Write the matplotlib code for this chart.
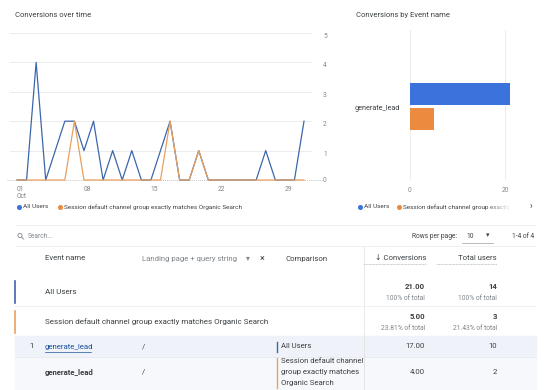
import matplotlib
matplotlib.use("Agg")
import matplotlib.pyplot as plt
import numpy as np

plt.rcParams['font.family'] = ['Roboto', 'DejaVu Sans']

# Datos del gráfico de líneas (conversiones diarias, octubre)
days = list(range(1, 32))
all_users = [0, 0, 4, 0, 1, 2, 2, 1, 2, 0, 1, 0, 1, 0, 0, 1, 2, 0, 0, 1,
             0, 0, 0, 0, 0, 0, 1, 0, 0, 0, 2]
organic = [0, 0, 0, 0, 0, 0, 2, 0, 0, 0, 0, 0, 0, 0, 0, 0, 2, 0, 0, 1,
           0, 0, 0, 0, 0, 0, 0, 0, 0, 0, 0]
x_tick_days = [1, 8, 15, 22, 29]
x_tick_labels = ['01\nOct', '08', '15', '22', '29']

# Datos del gráfico de barras
events = ['generate_lead']
conv_all = [21]
conv_organic = [5]

# Datos de la tabla
series_names = ['All Users', 'Session default channel group exactly matches Organic Search']
total_conv = ['21.00', '5.00']
total_conv_pct = ['100% of total', '23.81% of total']
total_users = ['14', '3']
total_users_pct = ['100% of total', '21.43% of total']
row_event = ['generate_lead', 'generate_lead']
row_page = ['/', '/']
row_comp = ['All Users', 'Session default channel\ngroup exactly matches\nOrganic Search']
row_conv = ['17.00', '4.00']
row_users = ['10', '2']

W, H = 551, 390
BLUE_LINE = '#3c66ad'
ORANGE_LINE = '#e8a05c'
BLUE_BAR = '#3b72db'
ORANGE_BAR = '#ec8a3f'
GRID = '#ececec'
TXT = '#3c4043'
GRAY = '#80868b'
FS = 5.6  # tamaño del texto de la tabla


def rect(x0, y0, x1, y1):
    return [x0 / W, 1 - y1 / H, (x1 - x0) / W, (y1 - y0) / H]


fig = plt.figure(figsize=(W / 100, H / 100), dpi=100)
fig.patch.set_facecolor('white')

# ---- Conversiones en el tiempo ----
ax = fig.add_axes(rect(10, 28, 312, 185))
px_day = 287 / 30
ax.set_xlim(1 - 7 / px_day, 1 + 295 / px_day)
ax.set_ylim(-5 / 29.4, 5 + 5 / 29.4)
for v in range(1, 6):
    ax.axhline(v, color=GRID, lw=0.7, zorder=0)
ax.plot([0, 33], [0, 0], color='#c8c8c8', lw=0.7, ls=(0, (1, 1)), zorder=1, clip_on=False)
ax.plot(days, all_users, color=BLUE_LINE, lw=0.9, zorder=2)
ax.plot(days, organic, color=ORANGE_LINE, lw=0.9, zorder=3)
for s in ax.spines.values():
    s.set_visible(False)
ax.set_xticks(x_tick_days)
ax.set_xticklabels(x_tick_labels, fontsize=4.8, color=GRAY, ha='left', linespacing=0.9)
ax.tick_params(axis='x', length=0, pad=1)
ax.yaxis.tick_right()
ax.set_yticks(range(0, 6))
ax.set_yticklabels([str(v) for v in range(0, 6)], fontsize=4.8, color=GRAY)
ax.tick_params(axis='y', length=0, pad=8)
for lab in ax.get_yticklabels()[1:]:
    lab.set_va('top')
ax.patch.set_visible(False)

# ---- Conversiones por evento ----
bx = fig.add_axes(rect(410, 30, 516, 180))
h = 0.29
yc = np.arange(len(events))
bx.barh(yc + h / 2, conv_all, height=h, color=BLUE_BAR, zorder=2)
bx.barh(yc - h / 2 - 0.04, conv_organic, height=h, color=ORANGE_BAR, zorder=2)
bx.set_xlim(0, 106 / 4.75)
bx.set_ylim(-1, 1)
bx.set_xticks([0, 20])
bx.set_xticklabels(['0', '20'], fontsize=4.8, color=GRAY)
bx.xaxis.grid(True, color=GRID, lw=0.7, zorder=0)
bx.tick_params(axis='x', length=0, pad=5)
bx.set_yticks(yc - 0.04)
bx.set_yticklabels(events, fontsize=5.2, color=TXT)
bx.tick_params(axis='y', length=0, pad=7)
for s in bx.spines.values():
    s.set_visible(False)
bx.patch.set_visible(False)

# ---- Capa de textos y tabla ----
tb = fig.add_axes([0, 0, 1, 1])
tb.axis('off')

tb.text(15, 15, 'Conversions over time', fontsize=5.5, color=TXT, va='center')
tb.text(356, 15, 'Conversions by Event name', fontsize=5.5, color=TXT, va='center')

# leyendas
tb.plot([19], [207], 'o', color=BLUE_BAR, ms=2.6)
tb.text(23, 207, 'All Users', fontsize=4.6, color=TXT, va='center')
tb.plot([60], [207], 'o', color=ORANGE_BAR, ms=2.6)
tb.text(64, 207, series_names[1], fontsize=4.6, color=TXT, va='center')

tb.plot([360], [207], 'o', color=BLUE_BAR, ms=2.6)
tb.text(364, 207, 'All Users', fontsize=4.6, color=TXT, va='center')
tb.plot([399], [207], 'o', color=ORANGE_BAR, ms=2.6)
tb.text(403, 207, 'Session default channel group exactly', fontsize=4.6, color=TXT,
        va='center', zorder=1)
fade = np.ones((1, 60, 4))
fade[0, :, 3] = np.clip(np.linspace(0, 1.6, 60), 0, 1)
tb.imshow(fade, extent=[485, 528, 212, 201], aspect='auto', zorder=2, interpolation='bilinear')
tb.add_patch(plt.Rectangle((520, 200), 30, 14, color='white', zorder=2))
tb.text(531, 206, '›', fontsize=6.5, color=TXT, va='center', ha='center', zorder=3)
tb.set_xlim(0, W)
tb.set_ylim(H, 0)

# barra de búsqueda
tb.plot([15, 536], [225, 225], color='#eeeeee', lw=0.6)
tb.add_patch(plt.Circle((20, 235.5), 2.1, fill=False, color=GRAY, lw=0.6))
tb.plot([21.6, 23.6], [237.1, 239.1], color=GRAY, lw=0.6)
tb.text(28, 236.5, 'Search...', fontsize=4.8, color=GRAY, va='center')
tb.text(457, 236.5, 'Rows per page:', fontsize=4.8, color=TXT, va='center', ha='right')
tb.text(466, 236, '10', fontsize=4.8, color=TXT, va='center')
tb.text(488, 236, '▾', fontsize=5, color=TXT, va='center', ha='center')
tb.plot([462, 493], [242.5, 242.5], color='#9aa0a6', lw=0.5)
tb.text(534, 236.5, '1-4 of 4', fontsize=4.8, color=TXT, va='center', ha='right')
tb.plot([15, 536], [246, 246], color='#eeeeee', lw=0.6)

# cabecera
hy = 258.5
tb.text(45, hy, 'Event name', fontsize=FS, color=TXT, va='center')
tb.text(142, hy, 'Landing page + query string', fontsize=FS, color=GRAY, va='center')
tb.text(248, hy, '▾', fontsize=5.5, color=GRAY, va='center', ha='center')
tb.text(262, hy, '×', fontsize=6.5, color=TXT, va='center', ha='center')
tb.text(286, hy, 'Comparison', fontsize=FS, color=TXT, va='center')
tb.text(426, hy, '↓ Conversions', fontsize=FS, color=TXT, va='center', ha='right')
tb.plot([363, 426], [hy + 5.5, hy + 5.5], color='#9aa0a6', lw=0.5, ls=(0, (1, 1)))
tb.text(497, hy, 'Total users', fontsize=FS, color=TXT, va='center', ha='right')
tb.plot([436, 497], [hy + 5.5, hy + 5.5], color='#9aa0a6', lw=0.5, ls=(0, (1, 1)))
tb.plot([363.5, 363.5], [246, 390], color='#e4e4e4', lw=0.6)

# filas de totales
colors = [BLUE_LINE, ORANGE_LINE]
for i, yy in enumerate([291.5, 321.5]):
    tb.plot([15, 15], [yy - 11, yy + 11], color=colors[i], lw=1.2)
    tb.text(45, yy, series_names[i], fontsize=5.8, color=TXT, va='center')
    tb.text(425, yy - 5, total_conv[i], fontsize=5.6, color=TXT, va='center', ha='right',
            fontweight='bold')
    tb.text(425, yy + 7, total_conv_pct[i], fontsize=4.9, color=GRAY, va='center', ha='right')
    tb.text(497, yy - 5, total_users[i], fontsize=5.6, color=TXT, va='center', ha='right',
            fontweight='bold')
    tb.text(497, yy + 7, total_users_pct[i], fontsize=4.9, color=GRAY, va='center', ha='right')
tb.plot([15, 536], [306, 306], color='#eeeeee', lw=0.6)

# filas de datos
tb.add_patch(plt.Rectangle((15, 336), 521, 21, color='#eff3f9', zorder=0))
tb.add_patch(plt.Rectangle((15, 357), 521, 33, color='#f6f8fb', zorder=0))
tb.plot([15, 536], [357, 357], color='#e6e9ee', lw=0.6)
tb.plot([363.5, 363.5], [336, 390], color='#e4e4e4', lw=0.6)

ry = [346.5, 372]
tb.text(29, ry[0], '1', fontsize=FS, color=TXT, va='center')
tb.text(45, ry[0], row_event[0], fontsize=FS, color='#1a4f9c', va='center')
tb.plot([45, 91], [ry[0] + 5, ry[0] + 5], color='#1a4f9c', lw=0.5)
tb.text(45, ry[1], row_event[1], fontsize=FS, color=TXT, va='center', fontweight='bold')
for i, yy in enumerate(ry):
    tb.text(142, yy, row_page[i], fontsize=FS, color=TXT, va='center')
    tb.text(425, yy, row_conv[i], fontsize=FS, color=TXT, va='center', ha='right')
    tb.text(497, yy, row_users[i], fontsize=FS, color=TXT, va='center', ha='right')
tb.plot([277, 277], [342, 352], color=BLUE_LINE, lw=1.0)
tb.text(281, ry[0], row_comp[0], fontsize=FS, color=TXT, va='center')
tb.plot([277, 277], [358, 388], color=ORANGE_LINE, lw=1.0)
for k, line in enumerate(row_comp[1].split('\n')):
    tb.text(281, ry[1] + (k - 1) * 11, line, fontsize=FS, color=TXT, va='center')

fig.savefig('out.png', dpi=100)
